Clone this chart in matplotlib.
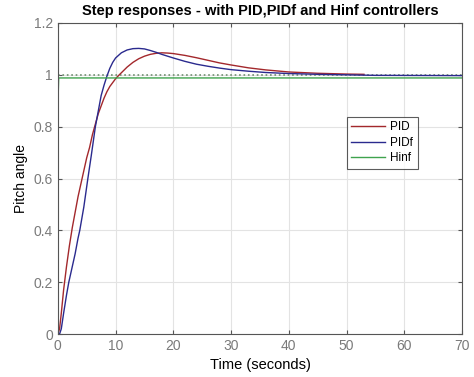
import numpy as np
import matplotlib
matplotlib.use('Agg')
from matplotlib import pyplot as plt

plt.rcParams['font.family'] = ['Liberation Sans', 'DejaVu Sans']

# PID response
t_pid = [0, 0.3, 0.6, 1.0, 1.5, 2.0, 2.5, 3.0, 3.5, 4.0, 4.5, 5.0, 5.5, 6.0, 6.5, 7.0, 7.5, 8.0, 8.5,
         9.0, 9.5, 10.0, 10.5, 11, 12, 13, 14, 15, 16, 17, 18, 19, 20, 22, 24, 26, 28, 30, 33, 36, 40,
         45, 50, 53]
y_pid = [0, 0.02, 0.08, 0.17, 0.26, 0.34, 0.41, 0.47, 0.53, 0.58, 0.63, 0.68, 0.72, 0.77, 0.81, 0.85,
         0.88, 0.91, 0.935, 0.955, 0.97, 0.985, 0.997, 1.008, 1.03, 1.048, 1.062, 1.072, 1.079, 1.083,
         1.085, 1.084, 1.082, 1.075, 1.066, 1.056, 1.046, 1.038, 1.027, 1.019, 1.011, 1.006, 1.003, 1.002]

# PIDf response
t_pidf = [0, 0.3, 0.6, 1.0, 1.5, 1.9, 2.5, 3.0, 3.5, 3.8, 4.5, 5.2, 5.8, 6.5, 7.0, 7.5, 8.0, 8.5, 9.0,
          9.5, 10, 11, 12, 13, 14, 15, 16, 17, 18, 19, 20, 22, 24, 26, 28, 30, 33, 36, 40, 45, 50, 55, 70]
y_pidf = [0, 0.0, 0.02, 0.08, 0.15, 0.2, 0.26, 0.31, 0.37, 0.4, 0.49, 0.6, 0.69, 0.8, 0.86, 0.92, 0.96,
          0.995, 1.025, 1.048, 1.065, 1.085, 1.096, 1.101, 1.102, 1.1, 1.094, 1.087, 1.079, 1.072, 1.065,
          1.052, 1.041, 1.033, 1.026, 1.02, 1.014, 1.009, 1.005, 1.002, 1.0, 0.998, 0.997]

# Hinf response
t_hinf = [0, 0.02, 0.15, 70]
y_hinf = [0, 0.89, 0.988, 0.988]

c_pid = '#a3282c'
c_pidf = '#2a2a8e'
c_hinf = '#3fa34d'

fig = plt.figure(figsize=(4.74, 3.77), dpi=100)
ax = fig.add_axes([0.122, 0.114, 0.853, 0.825])

ax.plot([0, 70], [1.0, 1.0], linestyle=':', color='#6f8f6f', linewidth=1.2)
ax.plot(t_pid, y_pid, color=c_pid, linewidth=1.0, label='PID')
ax.plot(t_pidf, y_pidf, color=c_pidf, linewidth=1.0, label='PIDf')
ax.plot(t_hinf, y_hinf, color=c_hinf, linewidth=1.0, label='Hinf')

ax.set_xlim(0, 70)
ax.set_ylim(0, 1.2)
ax.set_xticks(np.arange(0, 71, 10))
ax.set_yticks([0, 0.2, 0.4, 0.6, 0.8, 1, 1.2])
ax.set_yticklabels(['0', '0.2', '0.4', '0.6', '0.8', '1', '1.2'])
ax.grid(True, color='#e3e3e3', linewidth=0.8)
ax.set_axisbelow(True)
ax.tick_params(direction='in', colors='#555555', labelcolor='#7a7a7a', labelsize=10,
               top=True, right=True, length=3)
for s in ax.spines.values():
    s.set_color('#555555')
    s.set_linewidth(0.8)

ax.set_title('Step responses - with PID,PIDf and Hinf controllers', fontsize=10.5, fontweight='bold', pad=6)
ax.set_xlabel('Time (seconds)', fontsize=10.5)
ax.set_ylabel('Pitch angle', fontsize=10)

leg = ax.legend(loc='upper left', bbox_to_anchor=(0.70, 0.718), fontsize=8.5, frameon=True,
                fancybox=False, edgecolor='#333333', handlelength=2.8, borderpad=0.4,
                labelspacing=0.3, handletextpad=0.5)
leg.get_frame().set_linewidth(0.8)

fig.savefig('out.png', dpi=100)
